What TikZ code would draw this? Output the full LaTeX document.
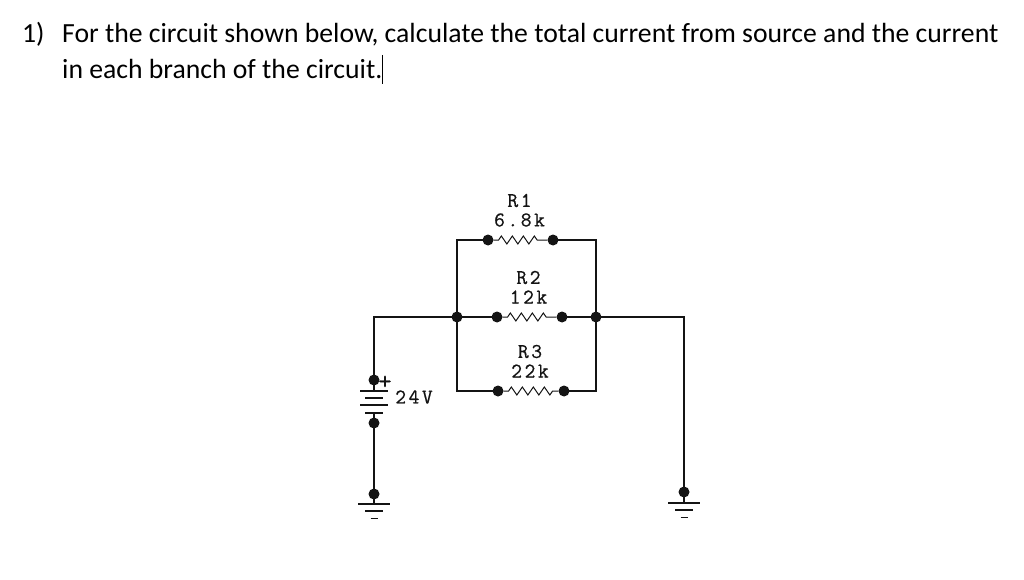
\documentclass[tikz,border=0pt]{standalone}
\usepackage{fontspec}
\setmainfont{Carlito}
\newfontfamily\schemBase[LetterSpace=12,FakeBold=0.6]{Latin Modern Mono}
\usetikzlibrary{decorations.pathmorphing}
\tikzstyle{circuit} = [x = 1pt, y = -1pt]
\definecolor{wireColor}{RGB}{20,20,20}
\newcommand{\schemFont}{\schemBase\fontsize{21}{21}\selectfont}
\tikzstyle{wire} = [color=wireColor, line width=1.6pt]
\tikzstyle{pinDot} = [circle, fill=wireColor, inner sep=0pt, minimum size=11pt]
\tikzstyle{zigzagLine} = [color=wireColor, line width=1pt, decorate, decoration={zigzag, amplitude=4pt, segment length=11pt, pre length=4.9pt, post length=4.9pt}]
\tikzstyle{schemText} = [font=\schemFont, color=wireColor, inner sep=0pt]
\tikzstyle{questionText} = [font=\fontsize{27.7}{27.7}\selectfont, color=black, anchor=base west, inner sep=0pt]
\newcommand{\plate}[3]{\draw [wire] (#1 - #3, #2) -- + (2 * #3, 0);}
\newcommand{\earth}[2]{
  \plate{#1}{#2}{16}
  \plate{#1}{#2 + 7}{9}
  \plate{#1}{#2 + 14.5}{3.5}
}
\newcommand{\resistor}[6]{
  \node [pinDot] (#1a) at (#2, #4) {};
  \node [pinDot] (#1b) at (#3, #4) {};
  \draw [zigzagLine] (#1a) -- (#1b);
  \node [schemText] (#1name) at (#2 / 2 + #3 / 2 - 1, #4 - 39.5) {#5};
  \node [schemText] (#1value) at (#2 / 2 + #3 / 2 - 1, #4 - 20) {#6};
}
\begin{document}
\begin{tikzpicture}[circuit]
  \useasboundingbox (0,0) rectangle (1024,580);
  \node [questionText] (number) at (22,43) {1)};
  \node [questionText] (lineOne) at (62,43) {For the circuit shown below, calculate the total current from source and the current};
  \node [questionText] (lineTwo) at (62,79) {in each branch of the circuit.};
  \draw [color=black, line width=1.5pt] (382.5,55) -- (382.5,84);

  \resistor{rOne}{488}{553}{240}{R1}{6.8k}
  \resistor{rTwo}{497}{562}{317}{R2}{12k}
  \resistor{rThree}{498}{564}{391}{R3}{22k}

  \node [pinDot] (leftJoin) at (457,317) {};
  \node [pinDot] (rightJoin) at (596,317) {};
  \node [pinDot] (plus) at (374,380) {};
  \node [pinDot] (minus) at (374,423) {};
  \node [pinDot] (sourceEarth) at (374,494) {};
  \node [pinDot] (loadEarth) at (684,492) {};

  \draw [wire] (leftJoin.center) -- (rTwoa.center);
  \draw [wire] (rTwob.center) -- (rightJoin.center);
  \draw [wire] (rOnea.center) -| (leftJoin.center);
  \draw [wire] (rOneb.center) -| (rightJoin.center);
  \draw [wire] (rThreea.center) -| (leftJoin.center);
  \draw [wire] (rThreeb.center) -| (rightJoin.center);
  \draw [wire] (plus.center) |- (leftJoin.center);
  \draw [wire] (loadEarth.center) |- (rightJoin.center);
  \draw [wire] (minus.center) -- (sourceEarth.center);
  \draw [wire] (plus.center) -- (374,391);
  \draw [wire] (minus.center) -- (374,413);
  \draw [wire] (sourceEarth.center) -- (374,504);
  \draw [wire] (loadEarth.center) -- (684,503);

  % source
  \plate{374}{391}{14}
  \plate{374}{398}{9}
  \plate{374}{405}{14}
  \plate{374}{413}{9}
  \node [schemText, font=\schemBase\fontsize{26}{26}\selectfont] (plusSign) at (385,382.5) {+};
  \node [schemText] (sourceValue) at (414,397) {24V};

  \earth{374}{504}
  \earth{684}{503}
\end{tikzpicture}
\end{document}
